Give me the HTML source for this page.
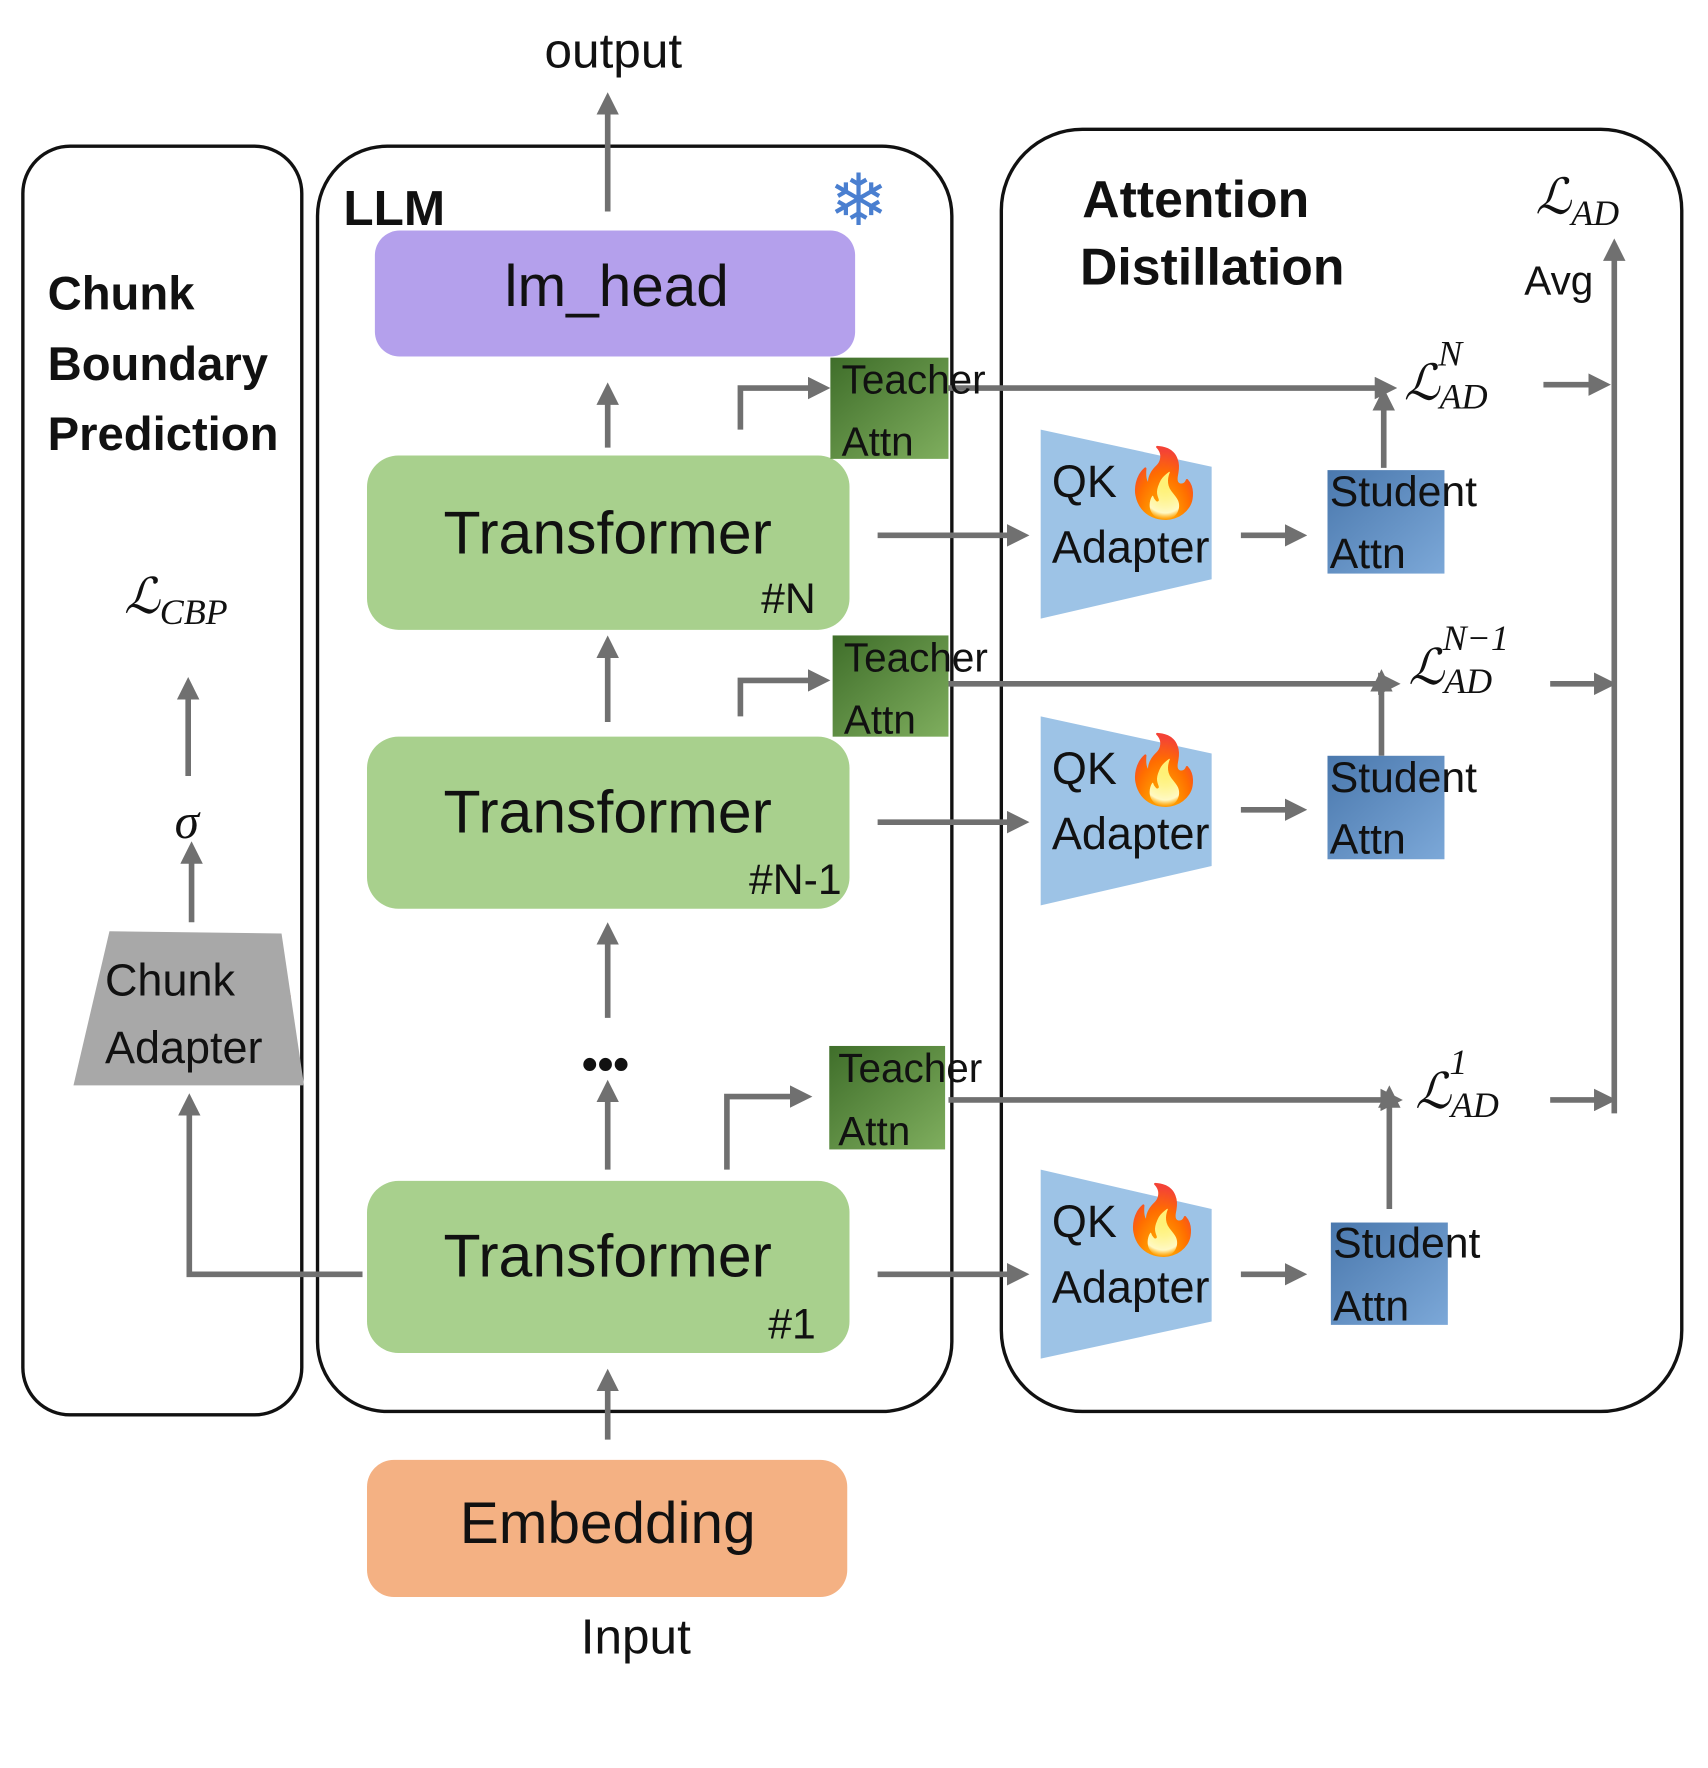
<!DOCTYPE html>
<html><head><meta charset="utf-8"><style>
html,body{margin:0;padding:0;background:#fff;}
svg{display:block}
text{font-family:"Liberation Sans",sans-serif;fill:#111}
.m{font-family:"Liberation Serif",serif;font-style:italic}
</style></head><body>
<svg width="1708" height="1768" viewBox="0 0 1518 1572" xmlns="http://www.w3.org/2000/svg">
<defs>
<marker id="a" markerWidth="4" markerHeight="4" refX="2" refY="2" orient="auto" markerUnits="strokeWidth">
<path d="M0,0 L4,2 L0,4 z" fill="#707070"/></marker>
<linearGradient id="tg" x1="0" y1="0" x2="1" y2="1"><stop offset="0" stop-color="#3f6e2a"/><stop offset="1" stop-color="#7fae5e"/></linearGradient>
<linearGradient id="sg" x1="0" y1="0" x2="1" y2="1"><stop offset="0" stop-color="#4a78ad"/><stop offset="1" stop-color="#7ca8d8"/></linearGradient>
</defs>
<g fill="none" stroke="#111" stroke-width="3">
<rect x="20" y="130" width="248" height="1128" rx="42"/>
<rect x="282" y="130" width="564" height="1125" rx="62"/>
<rect x="890" y="115" width="605" height="1140" rx="72"/>
</g>
<g stroke="#707070" stroke-width="5" fill="none" marker-end="url(#a)">
<path d="M540 188 V92"/>
<path d="M540 398 V350"/><path d="M540 642 V575"/><path d="M540 905 V830"/><path d="M540 1040 V970"/><path d="M540 1280 V1227"/>
<path d="M658 382 V345 H728"/><path d="M658 637 V605 H728"/><path d="M646 1040 V975 H712"/>
<path d="M843 345 H1232"/><path d="M843 608 H1235"/><path d="M843 978 H1237"/>
<path d="M780 476 H905"/><path d="M780 731 H905"/><path d="M780 1133 H905"/>
<path d="M1103 476 H1152"/><path d="M1103 720 H1152"/><path d="M1103 1133 H1152"/>
<path d="M1230 416 V355"/><path d="M1228 672 V605"/><path d="M1235 1075 V975"/>
<path d="M1372 342 H1422"/><path d="M1378 608 H1427"/><path d="M1378 978 H1427"/>
<path d="M1435 990 V222"/>
<path d="M167 690 V612"/><path d="M170 820 V758"/>
<path d="M322 1133 H168 V982"/>
</g>
<text x="545" y="60" font-size="44" text-anchor="middle">output</text>
<text x="305" y="200" font-size="44" font-weight="bold">LLM</text>
<text x="763" y="200" font-size="64" fill="#4a7fd0" text-anchor="middle" style="fill:#4a7fd0">❄</text>
<rect x="333" y="205" width="427" height="112" rx="22" fill="#b4a0ec"/>
<text x="548" y="272" font-size="52" text-anchor="middle">lm_head</text>
<g fill="#a8d08d">
<rect x="326" y="405" width="429" height="155" rx="28"/>
<rect x="326" y="655" width="429" height="153" rx="28"/>
<rect x="326" y="1050" width="429" height="153" rx="28"/>
</g>
<g font-size="54" text-anchor="middle">
<text x="540" y="492">Transformer</text><text x="540" y="740">Transformer</text><text x="540" y="1135">Transformer</text></g>
<g font-size="38" text-anchor="end"><text x="725" y="545">#N</text><text x="748" y="795">#N-1</text><text x="725" y="1190">#1</text></g>
<text x="538" y="960" font-size="40" text-anchor="middle" font-weight="bold">•••</text>
<rect x="326" y="1298" width="427" height="122" rx="24" fill="#f4b183"/>
<text x="540" y="1372" font-size="52" text-anchor="middle">Embedding</text>
<text x="565" y="1470" font-size="44" text-anchor="middle">Input</text>
<g fill="url(#tg)"><rect x="738" y="318" width="105" height="90"/><rect x="740" y="565" width="103" height="90"/><rect x="737" y="930" width="103" height="92"/></g>
<g font-size="36"><text x="748" y="350">Teacher</text><text x="748" y="405">Attn</text>
<text x="750" y="597">Teacher</text><text x="750" y="652">Attn</text>
<text x="745" y="962">Teacher</text><text x="745" y="1018">Attn</text></g>
<g fill="#9dc3e6"><polygon points="925,382 1077,415 1077,515 925,550"/><polygon points="925,637 1077,670 1077,770 925,805"/><polygon points="925,1040 1077,1075 1077,1175 925,1208"/></g>
<g font-size="40"><text x="935" y="442">QK</text><text x="935" y="500">Adapter</text>
<text x="935" y="697">QK</text><text x="935" y="755">Adapter</text>
<text x="935" y="1100">QK</text><text x="935" y="1158">Adapter</text></g>
<g font-size="60" text-anchor="middle"><text x="1035" y="450">🔥</text><text x="1035" y="705">🔥</text><text x="1033" y="1105">🔥</text><text x="233" y="900">🔥</text></g>
<g fill="url(#sg)"><rect x="1180" y="418" width="104" height="92"/><rect x="1180" y="672" width="104" height="92"/><rect x="1183" y="1087" width="104" height="91"/></g>
<g font-size="38"><text x="1182" y="450">Student</text><text x="1182" y="505">Attn</text>
<text x="1182" y="704">Student</text><text x="1182" y="759">Attn</text>
<text x="1185" y="1118">Student</text><text x="1185" y="1174">Attn</text></g>
<text x="962" y="193" font-size="46" font-weight="bold">Attention</text>
<text x="960" y="253" font-size="46" font-weight="bold">Distillation</text>
<g class="m" font-size="44">
<text class="m" x="1248" y="355">ℒ<tspan font-size="32" dy="8">AD</tspan><tspan font-size="32" dx="-44" dy="-38">N</tspan></text>
<text class="m" x="1252" y="608">ℒ<tspan font-size="32" dy="8">AD</tspan><tspan font-size="32" dx="-44" dy="-38">N−1</tspan></text>
<text class="m" x="1258" y="985">ℒ<tspan font-size="32" dy="8">AD</tspan><tspan font-size="32" dx="-44" dy="-38">1</tspan></text>
<text class="m" x="1365" y="190">ℒ<tspan font-size="32" dy="10">AD</tspan></text>
<text class="m" x="110" y="545">ℒ<tspan font-size="32" dy="10">CBP</tspan></text>
<text class="m" x="155" y="745">σ</text>
</g>
<text x="1355" y="262" font-size="36">Avg</text>
<g font-size="42" font-weight="bold"><text x="42" y="275">Chunk</text><text x="42" y="338">Boundary</text><text x="42" y="400">Prediction</text></g>
<polygon points="97,828 250,830 270,965 65,965" fill="#a8a8a8"/>
<g font-size="40"><text x="93" y="885">Chunk</text><text x="93" y="945">Adapter</text></g>
</svg>
</body></html>
